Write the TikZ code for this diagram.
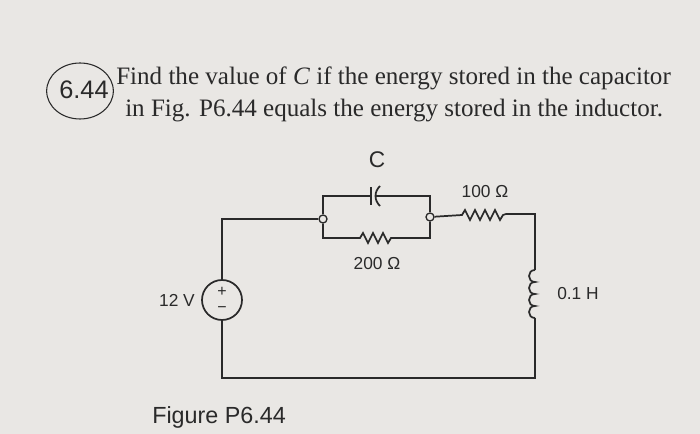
\documentclass[tikz,border=0pt]{standalone}
\usepackage{fontspec}
\usetikzlibrary{shapes.geometric}
\setmainfont{Liberation Serif}
\newfontfamily\sfam{Liberation Sans}
\definecolor{paper}{HTML}{E9E7E4}
\definecolor{ink}{HTML}{2A2A2A}
\begin{document}
\begin{tikzpicture}[x=0.75pt,y=-0.75pt,
  wire/.style={draw=ink,line width=1.3pt},
  lbl/.style={font=\sfam\fontsize{13}{14}\selectfont,text=ink,inner sep=0},
  term/.style={circle,draw=ink,fill=paper,line width=1pt,inner sep=0,minimum size=6pt}]
\fill[paper] (0,0) rectangle (700,434);
\useasboundingbox (0,0) rectangle (700,434);
% problem text
\node[draw=ink,ellipse,line width=0.8pt,minimum width=50pt,minimum height=42pt,inner sep=0] (num) at (80,91) {};
\node[font=\sfam\fontsize{19}{20}\selectfont,text=ink,inner sep=0] (numt) at (84,90) {6.44};
\node[anchor=west,font=\fontsize{18.8}{20}\selectfont,text=ink,inner sep=0] (l1) at (116,78) {Find the value of \textit{C} if the energy stored in the capacitor};
\node[anchor=west,font=\fontsize{18.8}{20}\selectfont,text=ink,inner sep=0] (l2) at (125,111) {in Fig. P6.44 equals the energy stored in the inductor.};
\node[anchor=west,font=\sfam\fontsize{17.5}{18}\selectfont,text=ink,inner sep=0] (fig) at (152,417) {Figure P6.44};
% coordinates
\coordinate (tl) at (222,219);
\coordinate (bl) at (222,378);
\coordinate (br) at (535,378);
\coordinate (tr) at (535,214);
\node[term] (ja) at (323,219) {};
\node[term] (jb) at (430,217) {};
\node[draw=ink,circle,line width=1.3pt,minimum size=30pt,inner sep=0] (src) at (222,300) {};
\node[lbl,font=\sfam\fontsize{12}{12}\selectfont] (plus) at (222,292) {+};
\node[lbl,font=\sfam\fontsize{12}{12}\selectfont] (minus) at (222,310) {−};
\node[lbl] (v) at (177,300) {12 V};
% wires
\draw[wire] (src.north) -- (tl) -- (ja);
\draw[wire] (src.south) -- (bl) -- (br) -- (535,318);
\draw[wire] (535,270) -- (tr) -- (506,214);
% parallel box
\draw[wire] (ja) -- (323,196) -- (371,196);
\draw[wire] (371,187) -- (371,205);
\draw[wire] (380,186) .. controls (374,192) and (374,200) .. (380,206);
\draw[wire] (376,196) -- (430,196) -- (jb);
\draw[wire] (ja) -- (323,238) -- (360,238) -- ++(3,-5) -- ++(5,10) -- ++(5,-10) -- ++(5,10) -- ++(5,-10) -- ++(5,10) -- ++(3,-5) -- (430,238) -- (jb);
\node[lbl,font=\sfam\fontsize{17}{18}\selectfont] (cl) at (377,160) {C};
\node[lbl] (r2) at (377,264) {200 Ω};
% 100 ohm
\draw[wire] (jb) -- (462,215) -- ++(3,-5) -- ++(5,10) -- ++(5,-10) -- ++(5,10) -- ++(5,-10) -- ++(5,10) -- ++(5,-10) -- ++(5,10) -- ++(3,-5) -- (506,214);
\node[lbl] (r1) at (485,192) {100 Ω};
% inductor
\draw[wire] (535,270) .. controls (527,270) and (527,282) .. (535,282)
  .. controls (527,282) and (527,294) .. (535,294)
  .. controls (527,294) and (527,306) .. (535,306)
  .. controls (527,306) and (527,318) .. (535,318);
\node[lbl,anchor=west] (ll) at (557,294) {0.1 H};
\end{tikzpicture}
\end{document}
